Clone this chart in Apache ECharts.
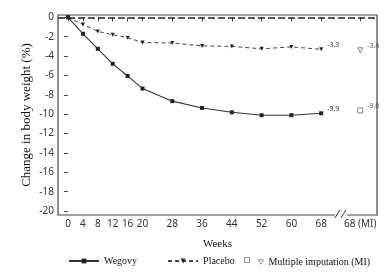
<!DOCTYPE html>
<html><head><meta charset="utf-8">
<script src="https://cdn.jsdelivr.net/npm/echarts@6/dist/echarts.min.js"></script>
<style>html,body{margin:0;padding:0;background:#fff}#c{width:391px;height:272px}</style>
</head><body><div id="c"></div>
<script>
const weeks = [0, 4, 8, 12, 16, 20, 28, 36, 44, 52, 60, 68];
const miWeek = 78.5;
const xTickValues = [0, 4, 8, 12, 16, 20, 28, 36, 44, 52, 60, 68, 78.5];
const yTickValues = [0, -2, -4, -6, -8, -10, -12, -14, -16, -18, -20];
const wegovy = [0, -1.7, -3.25, -4.8, -6.05, -7.35, -8.65, -9.35, -9.8, -10.1, -10.1, -9.9];
const placebo = [0, -0.75, -1.45, -1.8, -2.1, -2.6, -2.65, -2.95, -3.0, -3.25, -3.05, -3.3];
const miWegovy = -9.6;
const miPlacebo = -3.4;

const serif = '"Liberation Serif", "Times New Roman", serif';
const sans = '"Noto Sans", "Open Sans", sans-serif';
const downTri = 'path://M0,0 L10,0 L5,9 Z';

function build(vals) {
  return vals.map((v, i) => {
    const d = { value: [weeks[i], v] };
    if (i === vals.length - 1) d.label = { show: true };
    return d;
  });
}
const lbl = { show: false, position: 'right', offset: [-1, -4], fontSize: 7, color: '#333', fontFamily: sans, formatter: p => p.value[1].toFixed(1) };

const chart = echarts.init(document.getElementById('c'), null, { renderer: 'canvas' });
chart.setOption({
  animation: false,
  grid: { left: 58, right: 14, top: 15, bottom: 57, show: true, borderColor: '#444', borderWidth: 1.2, backgroundColor: 'transparent' },
  xAxis: {
    type: 'value', min: -2.7, max: 83,
    name: 'Weeks', nameLocation: 'middle', nameGap: 24, nameMoveOverlap: false,
    nameTextStyle: { fontFamily: serif, fontSize: 11, color: '#111' },
    axisLine: { show: false },
    axisTick: { show: true, customValues: xTickValues, length: 4, lineStyle: { color: '#444' } },
    axisLabel: { customValues: xTickValues, fontFamily: sans, fontSize: 10, color: '#333', margin: 4,
      formatter: v => (v === miWeek ? '68 (MI)' : String(v)) },
    splitLine: { show: false }
  },
  yAxis: {
    type: 'value', min: -20.4, max: 0.24,
    name: 'Change in body weight (%)', nameLocation: 'middle', nameGap: 25, nameMoveOverlap: false,
    nameTextStyle: { fontFamily: serif, fontSize: 13, color: '#111' },
    axisLine: { show: false },
    axisTick: { show: true, customValues: yTickValues, length: 4, lineStyle: { color: '#444' } },
    axisLabel: { customValues: yTickValues, fontFamily: sans, fontSize: 10, color: '#333', margin: 4 },
    splitLine: { show: false }
  },
  legend: [
    { left: 68, top: 256, itemWidth: 30, itemHeight: 6, itemGap: 30, padding: 0,
      textStyle: { fontFamily: serif, fontSize: 10, color: '#111' },
      data: ['Wegovy', 'Placebo'] },
    { left: 244, top: 257, itemWidth: 5, itemHeight: 5, padding: 0, formatter: () => '',
      itemStyle: { color: '#fff', borderColor: '#555', borderWidth: 0.8 }, data: ['MI Wegovy'] },
    { left: 258, top: 257, itemWidth: 5, itemHeight: 5, padding: 0,
      itemStyle: { color: '#fff', borderColor: '#555', borderWidth: 0.8 },
      textStyle: { fontFamily: serif, fontSize: 10, color: '#111' },
      formatter: () => 'Multiple imputation (MI)', data: [{ name: 'MI Placebo', icon: downTri }] }
  ],
  series: [
    { name: 'Zero', type: 'line', data: [], silent: true,
      markLine: { silent: true, symbol: 'none', label: { show: false },
        lineStyle: { color: '#222', width: 1.5, type: [7, 3] }, data: [{ yAxis: 0 }] } },
    { name: 'Wegovy', type: 'line', data: build(wegovy), symbol: 'rect', symbolSize: 4,
      lineStyle: { color: '#333', width: 1.1 }, itemStyle: { color: '#222' }, label: lbl },
    { name: 'Placebo', type: 'line', data: build(placebo), symbol: downTri, symbolSize: 4,
      lineStyle: { color: '#444', width: 1, type: [4, 3] }, itemStyle: { color: '#222' }, label: lbl },
    { name: 'MI Wegovy', type: 'scatter', data: [{ value: [miWeek, miWegovy], label: { show: true } }], symbol: 'rect', symbolSize: 5,
      itemStyle: { color: '#fff', borderColor: '#444', borderWidth: 0.8 }, label: lbl },
    { name: 'MI Placebo', type: 'scatter', data: [{ value: [miWeek, miPlacebo], label: { show: true } }], symbol: downTri, symbolSize: 5,
      itemStyle: { color: '#fff', borderColor: '#444', borderWidth: 0.8 }, label: lbl }
  ]
});

// axis break mark between week 68 and the MI column
const p = chart.convertToPixel({ xAxisIndex: 0, yAxisIndex: 0 }, [73.3, -20.4]);
chart.setOption({
  graphic: [
    { type: 'rect', shape: { x: p[0] - 6, y: p[1] - 2, width: 12, height: 4 }, style: { fill: '#fff' }, z: 100 },
    { type: 'line', shape: { x1: p[0] - 6, y1: p[1] + 3, x2: p[0] - 1, y2: p[1] - 5 }, style: { stroke: '#333', lineWidth: 1 }, z: 101 },
    { type: 'line', shape: { x1: p[0] + 0, y1: p[1] + 3, x2: p[0] + 5, y2: p[1] - 5 }, style: { stroke: '#333', lineWidth: 1 }, z: 101 }
  ]
});
</script></body></html>
